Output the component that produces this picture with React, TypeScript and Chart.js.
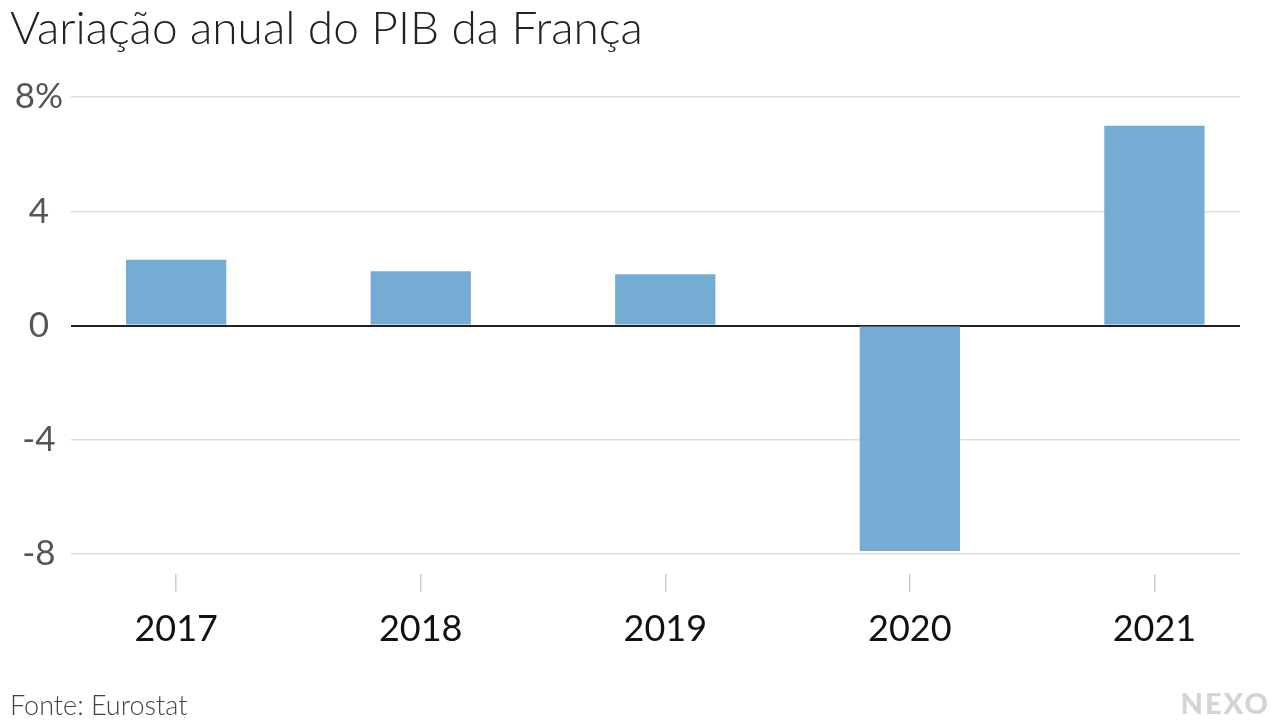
import React, { useEffect, useRef } from "react";
import { Chart, registerables } from "chart.js";

Chart.register(...registerables);

const years = [2017, 2018, 2019, 2020, 2021];
const growth = [2.3, 1.9, 1.8, -7.9, 7.0];
const yTickValues = [-8, -4, 0, 4, 8];
const titleText = "Variação anual do PIB da França";
const sourceText = "Fonte: Eurostat";
const brandText = "NEXO";

const brandPlugin = {
  id: "brand",
  afterDraw(chart: any) {
    const ctx = chart.ctx;
    ctx.save();
    ctx.font = "900 29px 'Lato'";
    ctx.fillStyle = "#d4d4d4";
    ctx.textAlign = "right";
    ctx.textBaseline = "alphabetic";
    try {
      ctx.letterSpacing = "2px";
    } catch (e) {}
    ctx.fillText(brandText, chart.width - 10, 714);
    ctx.restore();
  },
};

export default function App() {
  const ref = useRef<HTMLCanvasElement | null>(null);
  useEffect(() => {
    document.body.style.margin = "0";
    const canvas = ref.current!;
    const chart = new Chart(canvas, {
      type: "bar",
      data: {
        datasets: [
          {
            data: years.map((y, i) => ({ x: y, y: growth[i] })),
            backgroundColor: "#74acd3",
            borderWidth: 0,
            barPercentage: 1,
            categoryPercentage: 0.41,
          },
        ],
      },
      options: {
        animation: false,
        responsive: false,
        layout: { padding: { left: 10, right: 40, top: 0, bottom: 0 } },
        plugins: {
          legend: { display: false },
          tooltip: { enabled: false },
          title: {
            display: true,
            text: titleText,
            align: "start",
            color: "#222",
            font: { family: "Lato", size: 46, weight: "300" },
            padding: { top: 2, bottom: 40 },
          },
          subtitle: {
            display: true,
            position: "bottom",
            text: sourceText,
            align: "start",
            color: "#444",
            font: { family: "Lato", size: 27, weight: "300", lineHeight: 1 },
            padding: { top: 26, bottom: 0 },
          },
        },
        scales: {
          x: {
            type: "linear",
            min: 2016.57,
            max: 2021.35,
            offset: false,
            border: { display: false },
            afterFit: (scale: any) => {
              scale.paddingLeft = 0;
              scale.paddingRight = 0;
            },
            grid: {
              display: true,
              offset: false,
              drawOnChartArea: false,
              drawTicks: true,
              tickLength: 18,
              color: "#cccccc",
              lineWidth: 1.5,
            },
            ticks: {
              stepSize: 1,
              includeBounds: false,
              color: "#111",
              font: { family: "Lato", size: 36, weight: "400" },
              padding: 16,
              callback: (v: any) => String(v),
            },
          },
          y: {
            min: -8.7,
            max: 8,
            border: { display: false },
            afterBuildTicks: (scale: any) => {
              scale.ticks = yTickValues.map((v) => ({ value: v }));
            },
            afterFit: (scale: any) => {
              scale.width = 61;
            },
            grid: {
              drawTicks: false,
              color: (c: any) => (c.tick && c.tick.value === 0 ? "#222" : "#dddddd"),
              lineWidth: (c: any) => (c.tick && c.tick.value === 0 ? 2 : 1.5),
            },
            ticks: {
              includeBounds: false,
              crossAlign: "center",
              color: "#555",
              font: { family: "Lato", size: 35, weight: "400" },
              padding: 8,
              callback: (v: any) => (v === 8 ? "8%" : String(v)),
            },
          },
        },
      },
      plugins: [brandPlugin],
    });
    return () => chart.destroy();
  }, []);
  return (
    <div style={{ width: 1280, height: 720 }}>
      <canvas ref={ref} width={1280} height={720} style={{ display: "block" }} />
    </div>
  );
}
